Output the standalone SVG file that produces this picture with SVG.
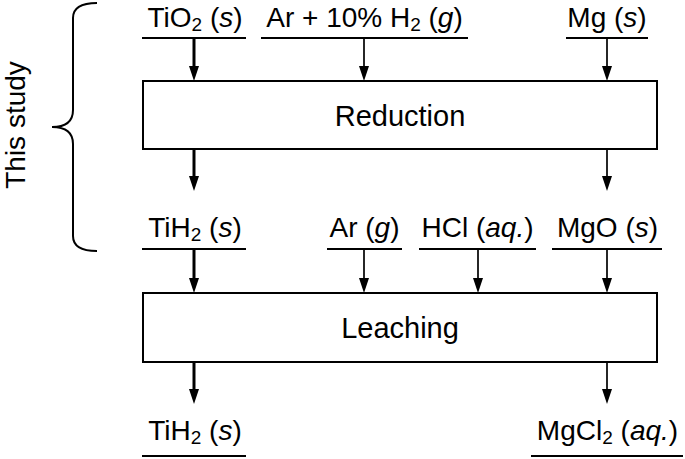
<svg xmlns="http://www.w3.org/2000/svg" width="685" height="459" viewBox="0 0 685 459">
<defs>
<style>
text{font-family:"Liberation Sans",Arial,sans-serif;font-size:28px;fill:#000;text-anchor:middle}
.big{font-size:29px}
.sub{font-size:19px}
.i{font-style:italic}
.ul{stroke:#000;stroke-width:2;fill:none}
.box{stroke:#000;stroke-width:2;fill:#fff}
.thick{stroke:#000;stroke-width:3;fill:none}
.thin{stroke:#000;stroke-width:1.7;fill:none}
</style>
</defs>
<rect width="685" height="459" fill="#fff"/>

<g id="brace">
<path d="M97,3 Q73,3 73,18 L73,110 Q73,127 52,127 Q73,127 73,144 L73,236 Q73,251 97,251" fill="none" stroke="#000" stroke-width="2"/>
<text transform="translate(25,125) rotate(-90)">This study</text>
</g>

<g id="connectors">
<path class="thick" d="M194,38 V66" />
<path class="thin" d="M364,38 V66" />
<path class="thin" d="M607,38 V66" />
<path d="M189,66 L199,66 L194,81 Z"/>
<path d="M359,66 L369,66 L364,81 Z"/>
<path d="M602,66 L612,66 L607,81 Z"/>

<path class="thick" d="M194,149 V176" />
<path class="thin" d="M607,149 V176" />
<path d="M189,176 L199,176 L194,191 Z"/>
<path d="M602,176 L612,176 L607,191 Z"/>

<path class="thick" d="M194,249 V278" />
<path class="thin" d="M364,249 V278" />
<path class="thin" d="M478,249 V278" />
<path class="thin" d="M607,249 V278" />
<path d="M189,278 L199,278 L194,293 Z"/>
<path d="M359,278 L369,278 L364,293 Z"/>
<path d="M473,278 L483,278 L478,293 Z"/>
<path d="M602,278 L612,278 L607,293 Z"/>

<path class="thick" d="M194,362 V389" />
<path class="thin" d="M607,362 V389" />
<path d="M189,389 L199,389 L194,404 Z"/>
<path d="M602,389 L612,389 L607,404 Z"/>
</g>

<g id="reduction">
<rect class="box" x="143" y="81" width="514" height="68"/>
<text class="big" x="400" y="126">Reduction</text>
</g>

<g id="leaching">
<rect class="box" x="143" y="293" width="514" height="69"/>
<text class="big" x="400" y="338">Leaching</text>
</g>

<g id="tio2">
<text x="195" y="27">TiO<tspan class="sub" dy="4">2</tspan><tspan dy="-4"> (</tspan><tspan class="i">s</tspan>)</text>
<line class="ul" x1="142" y1="38" x2="246" y2="38"/>
</g>
<g id="arh2">
<text x="364.5" y="27">Ar + 10% H<tspan class="sub" dy="4">2</tspan><tspan dy="-4"> (</tspan><tspan class="i">g</tspan>)</text>
<line class="ul" x1="261" y1="38" x2="468" y2="38"/>
</g>
<g id="mg">
<text x="607" y="27">Mg (<tspan class="i">s</tspan>)</text>
<line class="ul" x1="566" y1="38" x2="648" y2="38"/>
</g>

<g id="tih2a">
<text x="195" y="237">TiH<tspan class="sub" dy="4">2</tspan><tspan dy="-4"> (</tspan><tspan class="i">s</tspan>)</text>
<line class="ul" x1="142" y1="249" x2="246" y2="249"/>
</g>
<g id="ar">
<text x="364.5" y="237">Ar (<tspan class="i">g</tspan>)</text>
<line class="ul" x1="327" y1="249" x2="402" y2="249"/>
</g>
<g id="hcl">
<text x="477.5" y="237">HCl (<tspan class="i">aq.</tspan>)</text>
<line class="ul" x1="419" y1="249" x2="536" y2="249"/>
</g>
<g id="mgo">
<text x="607.5" y="237">MgO (<tspan class="i">s</tspan>)</text>
<line class="ul" x1="552" y1="249" x2="662" y2="249"/>
</g>

<g id="tih2b">
<text x="195" y="440">TiH<tspan class="sub" dy="4">2</tspan><tspan dy="-4"> (</tspan><tspan class="i">s</tspan>)</text>
<line class="ul" x1="142" y1="456" x2="246" y2="456"/>
</g>
<g id="mgcl2">
<text x="607.5" y="440">MgCl<tspan class="sub" dy="4">2</tspan><tspan dy="-4"> (</tspan><tspan class="i">aq.</tspan>)</text>
<line class="ul" x1="531" y1="456" x2="683" y2="456"/>
</g>
</svg>
